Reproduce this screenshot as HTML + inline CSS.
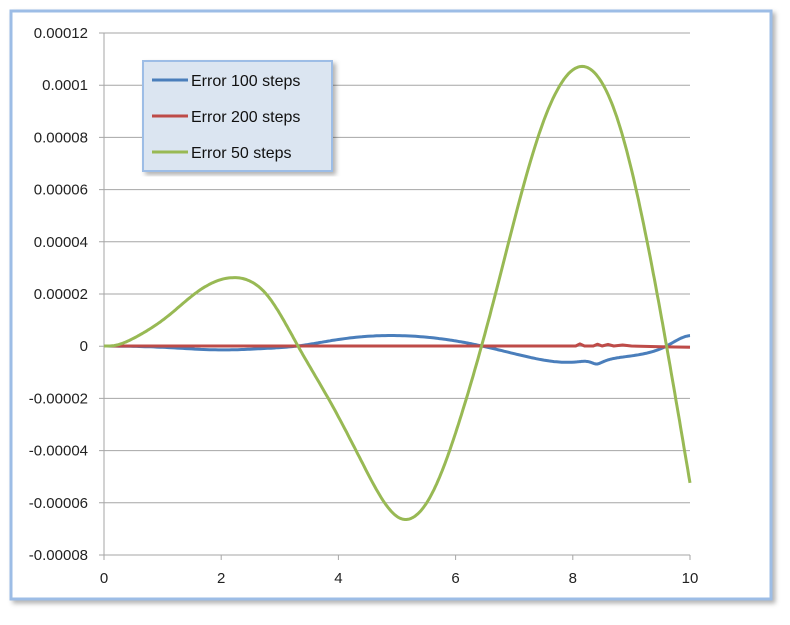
<!DOCTYPE html>
<html><head><style>
body{margin:0;background:#fff;width:790px;height:620px;overflow:hidden;font-family:"Liberation Sans",sans-serif}
</style></head><body>
<svg width="790" height="620" xmlns="http://www.w3.org/2000/svg">
<defs><filter id="sh" x="-5%" y="-5%" width="110%" height="110%"><feDropShadow dx="3" dy="3" stdDeviation="2.5" flood-color="#000" flood-opacity="0.3"/></filter></defs>
<rect x="11" y="11" width="760" height="588" fill="#fff" stroke="#9dbde6" stroke-width="3" filter="url(#sh)"/>
<g stroke="#a6a6a6" stroke-width="1" id="grid"></g>
<g font-size="15" fill="#222" id="lab"></g>
<g fill="none" stroke-width="3" stroke-linejoin="round" id="ser"></g>
<rect x="143" y="61" width="189" height="110" fill="#dbe5f1" stroke="#9dbde6" stroke-width="2" filter="url(#sh)"/>
<g font-size="16" fill="#111">
<line x1="152" y1="80" x2="188" y2="80" stroke="#4a7ebb" stroke-width="3"/><text x="191" y="86">Error 100 steps</text>
<line x1="152" y1="116" x2="188" y2="116" stroke="#be4b48" stroke-width="3"/><text x="191" y="122">Error 200 steps</text>
<line x1="152" y1="152" x2="188" y2="152" stroke="#98b954" stroke-width="3"/><text x="191" y="158">Error 50 steps</text>
</g>
</svg>
<script>
const X=x=>104+x*58.6, Y=v=>346-v/2e-5*52.17;
const ns="http://www.w3.org/2000/svg";
function el(p,t,a,txt){const e=document.createElementNS(ns,t);for(const k in a)e.setAttribute(k,a[k]);if(txt!=null)e.textContent=txt;document.getElementById(p).appendChild(e);return e}
const labs=["0.00012","0.0001","0.00008","0.00006","0.00004","0.00002","0","-0.00002","-0.00004","-0.00006","-0.00008"];
for(let i=0;i<=10;i++){const y=33+i*52.2;el("grid","line",{x1:99,x2:690,y1:y,y2:y});el("lab","text",{x:88,y:y+5,"text-anchor":"end"},labs[i]);}
el("grid","line",{x1:104,x2:104,y1:33,y2:555});
for(let i=0;i<=5;i++){const x=X(i*2);el("grid","line",{x1:x,x2:x,y1:555,y2:560});el("lab","text",{x:x,y:583,"text-anchor":"middle"},String(i*2));}
function spline(pts){const n=pts.length,xs=pts.map(p=>p[0]),ys=pts.map(p=>p[1]/1e-5);const h=[],a=[],b=[],c=[],r=[],m=new Array(n).fill(0);
for(let i=0;i<n-1;i++)h[i]=xs[i+1]-xs[i];
// tridiagonal for natural spline
const A=[],B=[],C=[],D=[];for(let i=1;i<n-1;i++){A.push(h[i-1]);B.push(2*(h[i-1]+h[i]));C.push(h[i]);D.push(6*((ys[i+1]-ys[i])/h[i]-(ys[i]-ys[i-1])/h[i-1]));}
const k=B.length;for(let i=1;i<k;i++){const w=A[i]/B[i-1];B[i]-=w*C[i-1];D[i]-=w*D[i-1];}
const s=new Array(k);for(let i=k-1;i>=0;i--)s[i]=(D[i]-(i<k-1?C[i]*s[i+1]:0))/B[i];for(let i=0;i<k;i++)m[i+1]=s[i];
let d="";for(let i=0;i<n-1;i++){for(let j=0;j<=20;j++){const x=xs[i]+h[i]*j/20;const t1=xs[i+1]-x,t0=x-xs[i];
const y=m[i]*t1**3/(6*h[i])+m[i+1]*t0**3/(6*h[i])+(ys[i]/h[i]-m[i]*h[i]/6)*t1+(ys[i+1]/h[i]-m[i+1]*h[i]/6)*t0;
d+=(d?"L":"M")+X(x).toFixed(1)+","+Y(y*1e-5).toFixed(1);}}return d}
const g=[[0,0],[0.15,0.01e-5],[0.55,0.35e-5],[1.07,1.11e-5],[1.64,2.15e-5],[2.19,2.62e-5],[2.78,1.96e-5],[3.31,0],[3.91,-2.34e-5],[4.47,-4.75e-5],[5.05,-6.6e-5],[5.61,-5.6e-5],[6.07,-2.84e-5],[6.64,1.65e-5],[7.39,7.9e-5],[8.16,1.072e-4],[8.75,8.78e-5],[9.32,3.41e-5],[9.6,0],[10,-5.25e-5]];
const b=[[0,0],[1,-0.05e-5],[2,-0.15e-5],[2.7,-0.1e-5],[3.3,0],[4,0.25e-5],[5,0.4e-5],[5.9,0.23e-5],[6.45,0],[7.2,-0.4e-5],[8.07,-0.61e-5],[8.3,-0.62e-5],[8.41,-0.69e-5],[8.5,-0.62e-5],[8.86,-0.42e-5],[9.6,0],[9.95,0.38e-5],[10,0.4e-5]];
const r=[[0,0],[4,0],[8.05,0],[8.12,0.08e-5],[8.2,0],[8.35,0],[8.42,0.07e-5],[8.5,0],[8.6,0.06e-5],[8.7,0],[8.85,0.04e-5],[9,0],[9.5,-0.03e-5],[10,-0.05e-5]];
function lin(p){return p.map((q,i)=>(i?"L":"M")+X(q[0]).toFixed(1)+","+Y(q[1]).toFixed(1)).join("")}
el("ser","path",{d:spline(b),stroke:"#4a7ebb"});
el("ser","path",{d:lin(r),stroke:"#be4b48"});
el("ser","path",{d:spline(g),stroke:"#98b954"});
</script>
</body></html>
